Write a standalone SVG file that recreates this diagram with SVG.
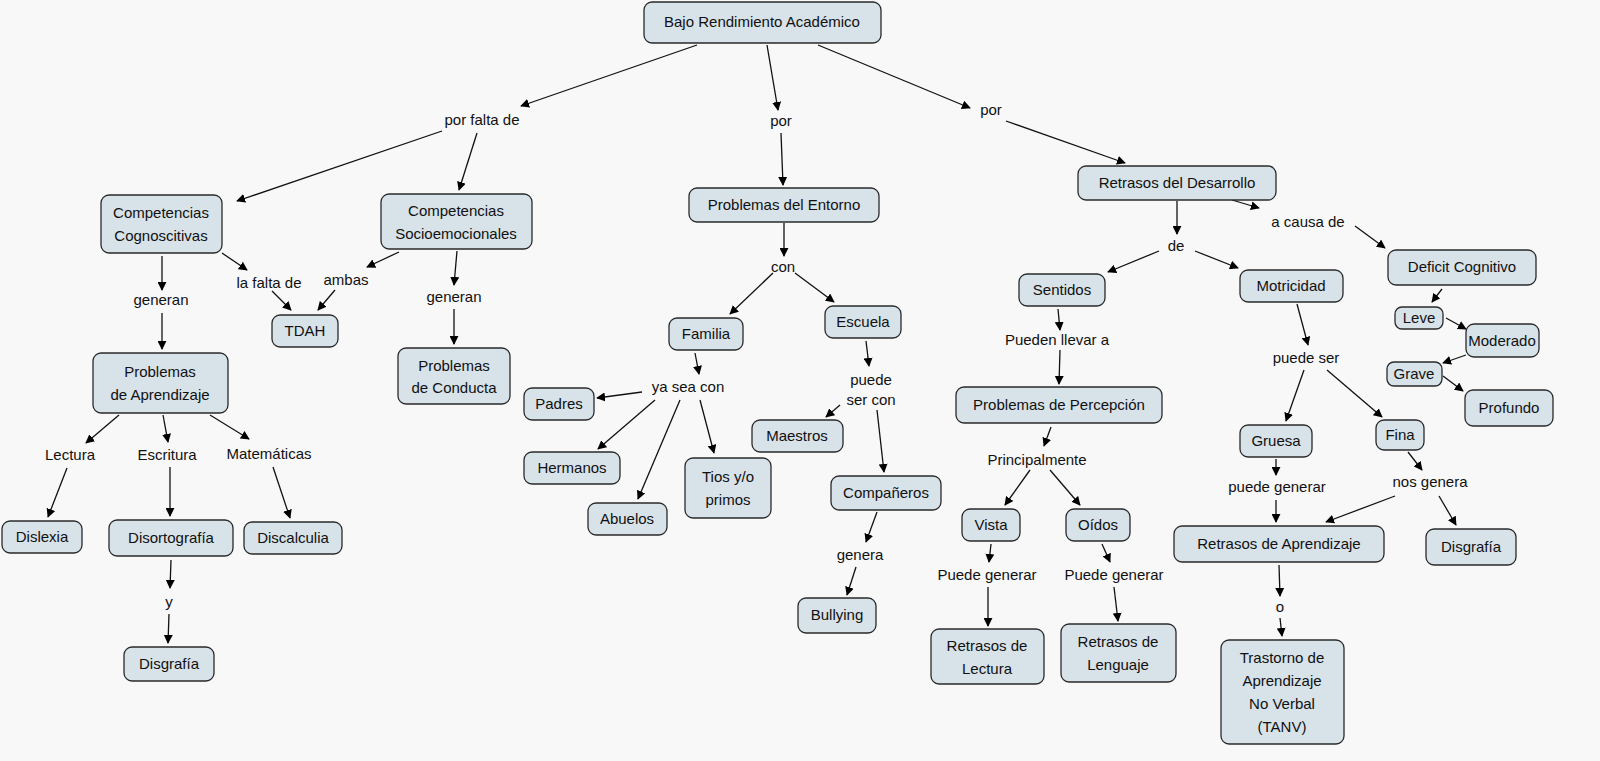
<svg xmlns="http://www.w3.org/2000/svg" width="1600" height="761" viewBox="0 0 1600 761">
<defs>
<marker id="a" viewBox="0 0 10 10" refX="9" refY="5" markerWidth="9" markerHeight="9" markerUnits="userSpaceOnUse" orient="auto"><path d="M0,0L10,5L0,10z" fill="#000"/></marker>
<style>
.n rect{fill:#d7e2e9;stroke:#2a2a2a;stroke-width:1.3}
text{font-family:"Liberation Sans",Arial,sans-serif;font-size:15px;fill:#111;text-anchor:middle}
#c line{stroke:#111;stroke-width:1.3;marker-end:url(#a)}
</style>
</defs>
<rect width="1600" height="761" fill="#f8f8f8"/>
<g id="c">
<line x1="697" y1="45" x2="521" y2="106"/><line x1="442" y1="131" x2="237" y2="201"/><line x1="477" y1="133" x2="459" y2="190"/>
<line x1="767" y1="45" x2="778" y2="110"/><line x1="781" y1="133" x2="783" y2="185"/>
<line x1="818" y1="45" x2="970" y2="108"/><line x1="1006" y1="121" x2="1125" y2="163"/>
<line x1="162" y1="256" x2="162" y2="290"/><line x1="162" y1="313" x2="162" y2="349"/>
<line x1="222" y1="253" x2="247" y2="270"/><line x1="272" y1="291" x2="291" y2="310"/>
<line x1="399" y1="252" x2="367" y2="267"/><line x1="335" y1="290" x2="318" y2="310"/>
<line x1="457" y1="251" x2="454" y2="285"/><line x1="454" y1="309" x2="454" y2="344"/>
<line x1="119" y1="415" x2="86" y2="443"/><line x1="163" y1="415" x2="168" y2="442"/><line x1="210" y1="415" x2="249" y2="439"/>
<line x1="67" y1="468" x2="48" y2="517"/><line x1="170" y1="467" x2="170" y2="516"/><line x1="273" y1="467" x2="290" y2="518"/>
<line x1="171" y1="560" x2="170" y2="588"/><line x1="169" y1="614" x2="168" y2="643"/>
<line x1="784" y1="223" x2="784" y2="256"/><line x1="773" y1="273" x2="730" y2="314"/><line x1="795" y1="273" x2="834" y2="302"/>
<line x1="695" y1="353" x2="699" y2="374"/><line x1="642" y1="392" x2="597" y2="398"/><line x1="655" y1="400" x2="598" y2="449"/>
<line x1="680" y1="400" x2="638" y2="499"/><line x1="700" y1="400" x2="714" y2="453"/>
<line x1="866" y1="341" x2="869" y2="366"/><line x1="840" y1="405" x2="826" y2="417"/><line x1="877" y1="410" x2="884" y2="472"/>
<line x1="877" y1="512" x2="866" y2="542"/><line x1="856" y1="567" x2="847" y2="595"/>
<line x1="1177" y1="201" x2="1177" y2="234"/><line x1="1232" y1="200" x2="1259" y2="208"/><line x1="1355" y1="226" x2="1385" y2="248"/>
<line x1="1159" y1="251" x2="1108" y2="272"/><line x1="1195" y1="251" x2="1238" y2="268"/>
<line x1="1442" y1="289" x2="1432" y2="302"/><line x1="1446" y1="318" x2="1466" y2="329"/><line x1="1466" y1="355" x2="1443" y2="363"/><line x1="1443" y1="376" x2="1463" y2="391"/>
<line x1="1058" y1="309" x2="1060" y2="330"/><line x1="1060" y1="350" x2="1059" y2="384"/>
<line x1="1051" y1="427" x2="1044" y2="446"/><line x1="1030" y1="470" x2="1005" y2="505"/><line x1="1050" y1="470" x2="1080" y2="505"/>
<line x1="991" y1="544" x2="989" y2="562"/><line x1="988" y1="587" x2="988" y2="626"/>
<line x1="1102" y1="544" x2="1110" y2="562"/><line x1="1114" y1="587" x2="1118" y2="621"/>
<line x1="1297" y1="304" x2="1308" y2="345"/><line x1="1304" y1="370" x2="1286" y2="421"/><line x1="1327" y1="370" x2="1382" y2="417"/>
<line x1="1276" y1="459" x2="1276" y2="475"/><line x1="1276" y1="500" x2="1276" y2="522"/>
<line x1="1408" y1="452" x2="1422" y2="470"/><line x1="1395" y1="496" x2="1326" y2="522"/><line x1="1439" y1="496" x2="1456" y2="525"/>
<line x1="1279" y1="565" x2="1280" y2="596"/><line x1="1280" y1="618" x2="1282" y2="636"/>
</g>
<g id="labels">
<text x="482" y="125">por falta de</text><text x="781" y="126">por</text><text x="991" y="115">por</text>
<text x="269" y="288">la falta de</text><text x="346" y="285">ambas</text>
<text x="161" y="305">generan</text><text x="454" y="302">generan</text>
<text x="70" y="460">Lectura</text><text x="167" y="460">Escritura</text><text x="269" y="459">Matemáticas</text>
<text x="169" y="607">y</text>
<text x="783" y="272">con</text><text x="688" y="392">ya sea con</text>
<text x="871" y="385">puede</text><text x="871" y="405">ser con</text><text x="860" y="560">genera</text>
<text x="1176" y="251">de</text><text x="1308" y="227">a causa de</text>
<text x="1057" y="345">Pueden llevar a</text><text x="1037" y="465">Principalmente</text>
<text x="987" y="580">Puede generar</text><text x="1114" y="580">Puede generar</text>
<text x="1306" y="363">puede ser</text><text x="1277" y="492">puede generar</text><text x="1430" y="487">nos genera</text>
<text x="1280" y="612">o</text>
</g>
<g id="n1" class="n"><rect x="644" y="2" width="237" height="41" rx="8"/><text x="762" y="27">Bajo Rendimiento Académico</text></g>
<g id="n2" class="n"><rect x="101" y="195" width="121" height="58" rx="8"/><text x="161" y="218">Competencias</text><text x="161" y="241">Cognoscitivas</text></g>
<g id="n3" class="n"><rect x="381" y="194" width="151" height="55" rx="8"/><text x="456" y="216">Competencias</text><text x="456" y="239">Socioemocionales</text></g>
<g id="n4" class="n"><rect x="689" y="188" width="190" height="34" rx="8"/><text x="784" y="210">Problemas del Entorno</text></g>
<g id="n5" class="n"><rect x="1078" y="166" width="198" height="34" rx="8"/><text x="1177" y="188">Retrasos del Desarrollo</text></g>
<g id="n6" class="n"><rect x="272" y="315" width="66" height="32" rx="8"/><text x="305" y="336">TDAH</text></g>
<g id="n7" class="n"><rect x="93" y="353" width="135" height="60" rx="8"/><text x="160" y="377">Problemas</text><text x="160" y="400">de Aprendizaje</text></g>
<g id="n8" class="n"><rect x="398" y="348" width="112" height="56" rx="8"/><text x="454" y="371">Problemas</text><text x="454" y="393">de Conducta</text></g>
<g id="n9" class="n"><rect x="2" y="521" width="80" height="32" rx="8"/><text x="42" y="542">Dislexia</text></g>
<g id="n10" class="n"><rect x="109" y="520" width="124" height="36" rx="8"/><text x="171" y="543">Disortografía</text></g>
<g id="n11" class="n"><rect x="244" y="522" width="98" height="32" rx="8"/><text x="293" y="543">Discalculia</text></g>
<g id="n12" class="n"><rect x="124" y="647" width="90" height="34" rx="8"/><text x="169" y="669">Disgrafía</text></g>
<g id="n13" class="n"><rect x="669" y="318" width="74" height="32" rx="8"/><text x="706" y="339">Familia</text></g>
<g id="n14" class="n"><rect x="825" y="306" width="76" height="32" rx="8"/><text x="863" y="327">Escuela</text></g>
<g id="n15" class="n"><rect x="524" y="388" width="70" height="32" rx="8"/><text x="559" y="409">Padres</text></g>
<g id="n16" class="n"><rect x="524" y="452" width="96" height="32" rx="8"/><text x="572" y="473">Hermanos</text></g>
<g id="n17" class="n"><rect x="588" y="503" width="79" height="32" rx="8"/><text x="627" y="524">Abuelos</text></g>
<g id="n18" class="n"><rect x="685" y="458" width="86" height="60" rx="8"/><text x="728" y="482">Tios y/o</text><text x="728" y="505">primos</text></g>
<g id="n19" class="n"><rect x="752" y="420" width="91" height="32" rx="8"/><text x="797" y="441">Maestros</text></g>
<g id="n20" class="n"><rect x="831" y="476" width="110" height="34" rx="8"/><text x="886" y="498">Compañeros</text></g>
<g id="n21" class="n"><rect x="798" y="598" width="78" height="35" rx="8"/><text x="837" y="620">Bullying</text></g>
<g id="n22" class="n"><rect x="1019" y="274" width="86" height="32" rx="8"/><text x="1062" y="295">Sentidos</text></g>
<g id="n23" class="n"><rect x="1240" y="270" width="103" height="32" rx="8"/><text x="1291" y="291">Motricidad</text></g>
<g id="n24" class="n"><rect x="1388" y="250" width="148" height="35" rx="8"/><text x="1462" y="272">Deficit Cognitivo</text></g>
<g id="n25" class="n"><rect x="1395" y="307" width="48" height="22" rx="7"/><text x="1419" y="323">Leve</text></g>
<g id="n26" class="n"><rect x="1466" y="324" width="73" height="33" rx="8"/><text x="1502" y="346">Moderado</text></g>
<g id="n27" class="n"><rect x="1387" y="362" width="55" height="24" rx="7"/><text x="1414" y="379">Grave</text></g>
<g id="n28" class="n"><rect x="1465" y="390" width="88" height="36" rx="8"/><text x="1509" y="413">Profundo</text></g>
<g id="n29" class="n"><rect x="956" y="387" width="206" height="36" rx="8"/><text x="1059" y="410">Problemas de Percepción</text></g>
<g id="n30" class="n"><rect x="962" y="509" width="58" height="32" rx="8"/><text x="991" y="530">Vista</text></g>
<g id="n31" class="n"><rect x="1066" y="509" width="64" height="32" rx="8"/><text x="1098" y="530">Oídos</text></g>
<g id="n32" class="n"><rect x="931" y="629" width="113" height="55" rx="8"/><text x="987" y="651">Retrasos de</text><text x="987" y="674">Lectura</text></g>
<g id="n33" class="n"><rect x="1061" y="624" width="115" height="58" rx="8"/><text x="1118" y="647">Retrasos de</text><text x="1118" y="670">Lenguaje</text></g>
<g id="n34" class="n"><rect x="1240" y="425" width="72" height="32" rx="8"/><text x="1276" y="446">Gruesa</text></g>
<g id="n35" class="n"><rect x="1376" y="420" width="48" height="30" rx="8"/><text x="1400" y="440">Fina</text></g>
<g id="n36" class="n"><rect x="1174" y="526" width="210" height="36" rx="8"/><text x="1279" y="549">Retrasos de Aprendizaje</text></g>
<g id="n37" class="n"><rect x="1426" y="529" width="90" height="36" rx="8"/><text x="1471" y="552">Disgrafía</text></g>
<g id="n38" class="n"><rect x="1221" y="640" width="123" height="104" rx="8"/><text x="1282" y="663">Trastorno de</text><text x="1282" y="686">Aprendizaje</text><text x="1282" y="709">No Verbal</text><text x="1282" y="732">(TANV)</text></g>
</svg>
